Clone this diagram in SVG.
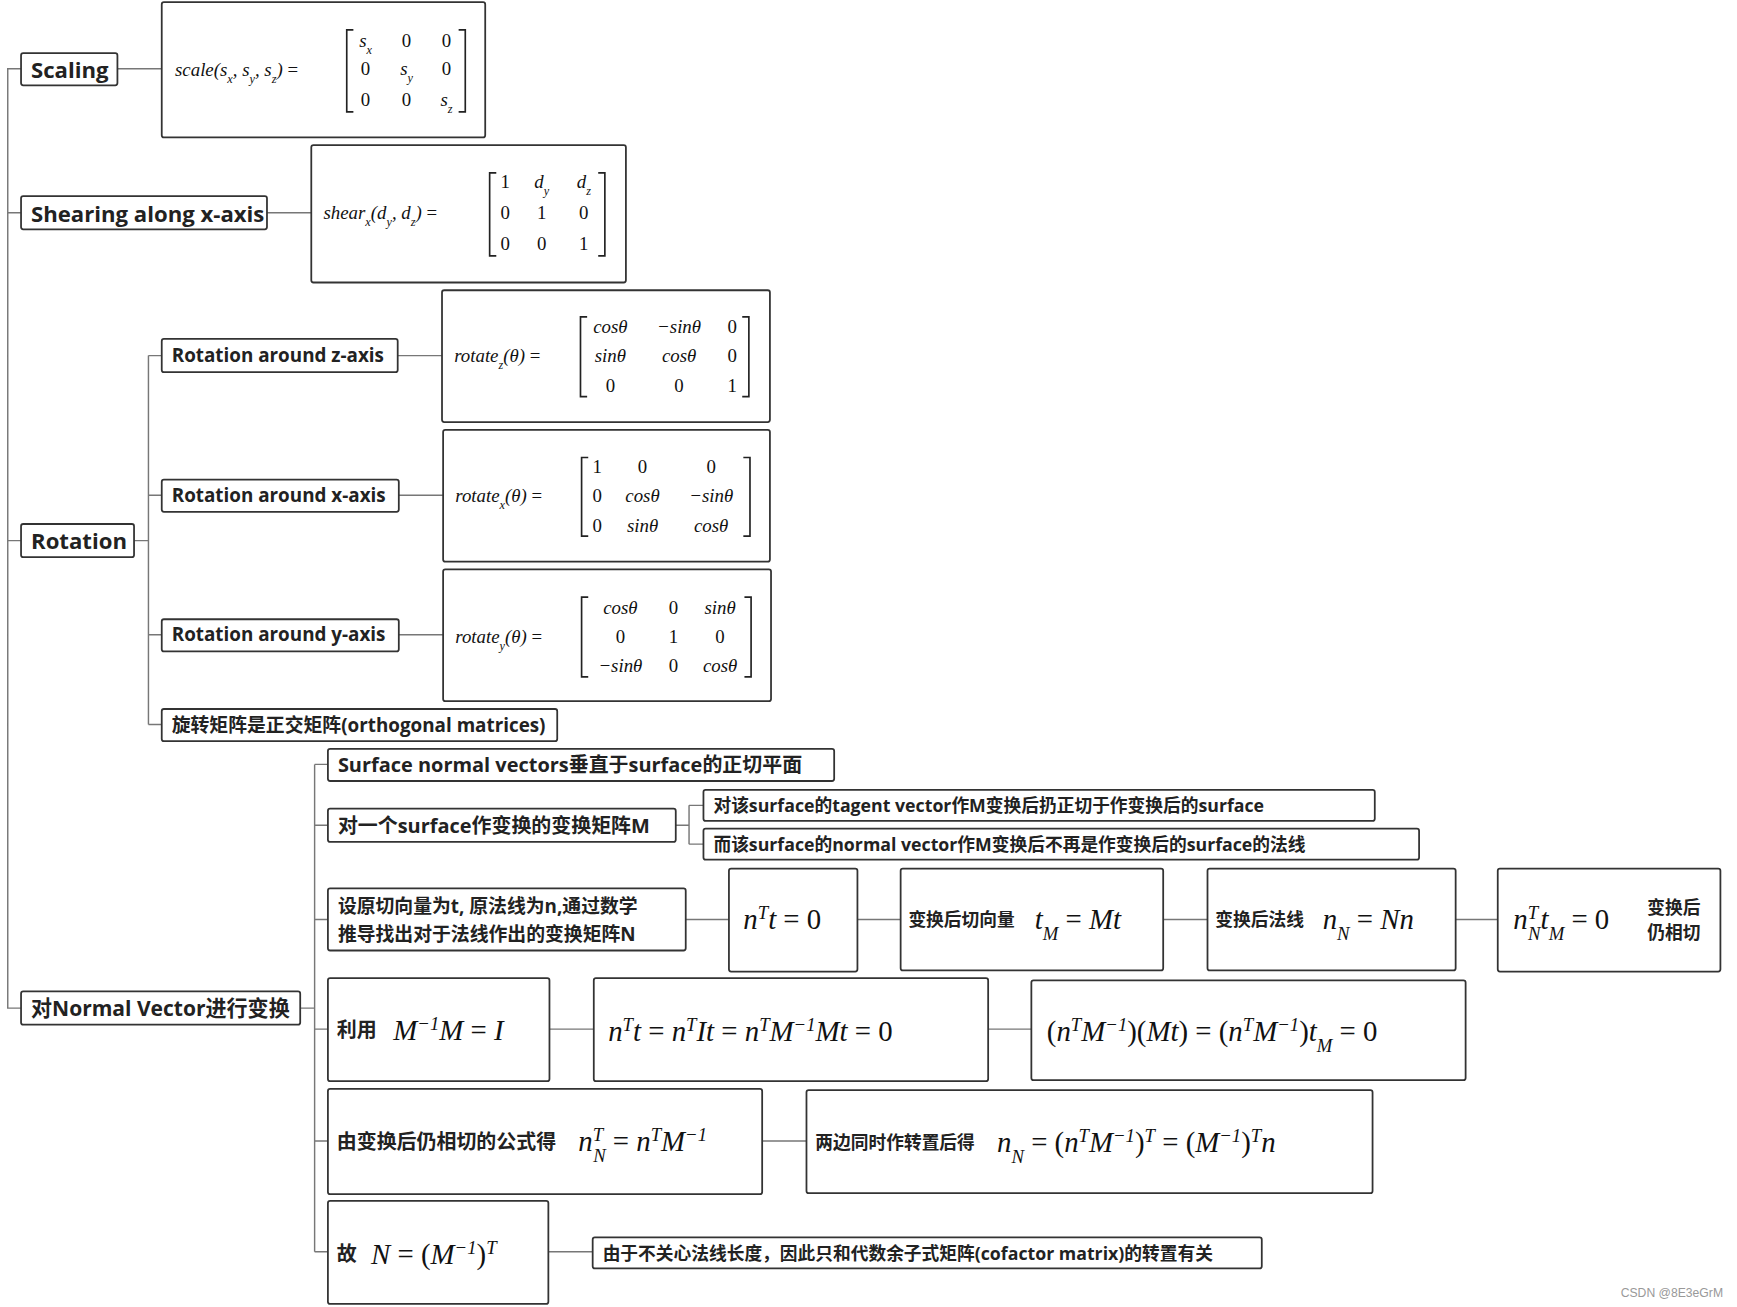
<svg xmlns="http://www.w3.org/2000/svg" width="1737" height="1307" viewBox="0 0 1737 1307">
<style>
.b{fill:#fff;stroke:#333;stroke-width:1.6}
.c{fill:none;stroke:#777;stroke-width:1.3}
.k{fill:none;stroke:#222;stroke-width:1.5}
.t{font-family:"Open Sans","Noto Sans CJK SC",sans-serif;font-weight:bold;fill:#222}
.m{font-family:"Liberation Serif",serif;font-style:italic;fill:#111}
.n{font-style:normal}
.u{font-size:65%;baseline-shift:super}
.d{font-size:65%;baseline-shift:sub}
.e{text-anchor:middle;font-size:17px}
</style>
<rect width="1737" height="1307" fill="#fff"/>
<g transform="scale(1.1078)">
<g id="connectors">
<path class="c" d="M19 62H7V910H19M7 192H19M7 488H19M106 62H146M241 192H281M121 488H134M134 321V654M134 321H146M134 447H146M134 573H146M134 654H146M359 321H399M360 447H400M360 573H400M271 910H284M284 690V1130M284 690H296M284 745H296M284 830H296M284 929H296M284 1030H296M284 1130H296M610 745H622M622 727V762M622 727H635M622 762H635M619 830H658M774 830H813M1050 830H1090M1314 830H1352M496 929H536M892 929H931M688 1030H728M495 1130H535"/>
</g>
<g id="scaling"><rect class="b" x="19" y="48" width="87" height="29" rx="2"/><text class="t" x="28" y="70" font-size="20">Scaling</text></g>
<g id="scale-f"><rect class="b" x="146" y="2" width="292" height="122" rx="2"/>
<text class="m" x="158" y="69" font-size="17">scale(s<tspan class="d">x</tspan>, s<tspan class="d">y</tspan>, s<tspan class="d">z</tspan>) <tspan class="n">=</tspan></text>
<path class="k" d="M319 27H313V101H319M414 27H420V101H414"/>
<g class="m e"><text x="330" y="42">s<tspan class="d">x</tspan></text><text x="367" y="42" class="n">0</text><text x="403" y="42" class="n">0</text>
<text x="330" y="68" class="n">0</text><text x="367" y="68">s<tspan class="d">y</tspan></text><text x="403" y="68" class="n">0</text>
<text x="330" y="96" class="n">0</text><text x="367" y="96" class="n">0</text><text x="403" y="96">s<tspan class="d">z</tspan></text></g></g>
<g id="shearing"><rect class="b" x="19" y="177" width="222" height="30" rx="2"/><text class="t" x="28" y="200" font-size="20">Shearing along x-axis</text></g>
<g id="shear-f"><rect class="b" x="281" y="131" width="284" height="124" rx="2"/>
<text class="m" x="292" y="198" font-size="17">shear<tspan class="d">x</tspan>(d<tspan class="d">y</tspan>, d<tspan class="d">z</tspan>) <tspan class="n">=</tspan></text>
<path class="k" d="M448 156H442V231H448M540 156H546V231H540"/>
<g class="m e"><text x="456" y="170" class="n">1</text><text x="489" y="170">d<tspan class="d">y</tspan></text><text x="527" y="170">d<tspan class="d">z</tspan></text>
<text x="456" y="198" class="n">0</text><text x="489" y="198" class="n">1</text><text x="527" y="198" class="n">0</text>
<text x="456" y="226" class="n">0</text><text x="489" y="226" class="n">0</text><text x="527" y="226" class="n">1</text></g></g>
<g id="rotation"><rect class="b" x="19" y="473" width="102" height="30" rx="2"/><text class="t" x="28" y="496" font-size="20">Rotation</text></g>
<g id="rotz"><rect class="b" x="146" y="306" width="213" height="30" rx="2"/><text class="t" x="155" y="327" font-size="17">Rotation around z-axis</text></g>
<g id="rotz-f"><rect class="b" x="399" y="262" width="296" height="119" rx="2"/>
<text class="m" x="410" y="327" font-size="17">rotate<tspan class="d">z</tspan>(θ) <tspan class="n">=</tspan></text>
<path class="k" d="M530 286H524V358H530M670 286H676V358H670"/>
<g class="m e"><text x="551" y="301">cosθ</text><text x="613" y="301">−sinθ</text><text x="661" y="301" class="n">0</text>
<text x="551" y="327">sinθ</text><text x="613" y="327">cosθ</text><text x="661" y="327" class="n">0</text>
<text x="551" y="354" class="n">0</text><text x="613" y="354" class="n">0</text><text x="661" y="354" class="n">1</text></g></g>
<g id="rotx"><rect class="b" x="146" y="433" width="214" height="29" rx="2"/><text class="t" x="155" y="453" font-size="17">Rotation around x-axis</text></g>
<g id="rotx-f"><rect class="b" x="400" y="388" width="295" height="119" rx="2"/>
<text class="m" x="411" y="453" font-size="17">rotate<tspan class="d">x</tspan>(θ) <tspan class="n">=</tspan></text>
<path class="k" d="M531 413H525V484H531M671 413H677V484H671"/>
<g class="m e"><text x="539" y="427" class="n">1</text><text x="580" y="427" class="n">0</text><text x="642" y="427" class="n">0</text>
<text x="539" y="453" class="n">0</text><text x="580" y="453">cosθ</text><text x="642" y="453">−sinθ</text>
<text x="539" y="480" class="n">0</text><text x="580" y="480">sinθ</text><text x="642" y="480">cosθ</text></g></g>
<g id="roty"><rect class="b" x="146" y="559" width="214" height="29" rx="2"/><text class="t" x="155" y="579" font-size="17">Rotation around y-axis</text></g>
<g id="roty-f"><rect class="b" x="400" y="514" width="296" height="119" rx="2"/>
<text class="m" x="411" y="580" font-size="17">rotate<tspan class="d">y</tspan>(θ) <tspan class="n">=</tspan></text>
<path class="k" d="M531 539H525V611H531M672 539H678V611H672"/>
<g class="m e"><text x="560" y="554">cosθ</text><text x="608" y="554" class="n">0</text><text x="650" y="554">sinθ</text>
<text x="560" y="580" class="n">0</text><text x="608" y="580" class="n">1</text><text x="650" y="580" class="n">0</text>
<text x="560" y="607">−sinθ</text><text x="608" y="607" class="n">0</text><text x="650" y="607">cosθ</text></g></g>
<g id="orth"><rect class="b" x="146" y="640" width="357" height="29" rx="2"/><text class="t" x="155" y="661" font-size="17">旋转矩阵是正交矩阵(orthogonal matrices)</text></g>
<g id="normal"><rect class="b" x="19" y="895" width="252" height="30" rx="2"/><text class="t" x="28" y="917" font-size="19">对Normal Vector进行变换</text></g>
<g id="n1"><rect class="b" x="296" y="676" width="457" height="29" rx="2"/><text class="t" x="305" y="697" font-size="18">Surface normal vectors垂直于surface的正切平面</text></g>
<g id="n2"><rect class="b" x="296" y="730" width="314" height="30" rx="2"/><text class="t" x="305" y="752" font-size="18">对一个surface作变换的变换矩阵M</text></g>
<g id="n2a"><rect class="b" x="635" y="713" width="606" height="28" rx="2"/><text class="t" x="644" y="733" font-size="16">对该surface的tagent vector作M变换后扔正切于作变换后的surface</text></g>
<g id="n2b"><rect class="b" x="635" y="748" width="646" height="28" rx="2"/><text class="t" x="644" y="768" font-size="16">而该surface的normal vector作M变换后不再是作变换后的surface的法线</text></g>
<g id="n3"><rect class="b" x="296" y="802" width="323" height="56" rx="2"/><text class="t" font-size="17"><tspan x="305" y="824">设原切向量为t, 原法线为n,通过数学</tspan><tspan x="305" y="849">推导找出对于法线作出的变换矩阵N</tspan></text></g>
<g id="n3a"><rect class="b" x="658" y="784" width="116" height="93" rx="2"/><text class="m" x="671" y="839" font-size="26">n<tspan class="u">T</tspan>t <tspan class="n">= 0</tspan></text></g>
<g id="n3b"><rect class="b" x="813" y="784" width="237" height="92" rx="2"/><text class="t" x="820" y="836" font-size="16">变换后切向量</text><text class="m" x="934" y="839" font-size="26">t<tspan class="d">M</tspan> <tspan class="n">=</tspan> Mt</text></g>
<g id="n3c"><rect class="b" x="1090" y="784" width="224" height="92" rx="2"/><text class="t" x="1097" y="836" font-size="16">变换后法线</text><text class="m" x="1194" y="839" font-size="26">n<tspan class="d">N</tspan> <tspan class="n">=</tspan> Nn</text></g>
<g id="n3d"><rect class="b" x="1352" y="784" width="201" height="93" rx="2"/><text class="m" x="1366" y="839" font-size="26">n<tspan class="u">T</tspan><tspan dx="-9" class="d">N</tspan>t<tspan class="d">M</tspan> <tspan class="n">= 0</tspan></text><text class="t" font-size="16"><tspan x="1487" y="825">变换后</tspan><tspan x="1487" y="848">仍相切</tspan></text></g>
<g id="n4"><rect class="b" x="296" y="883" width="200" height="93" rx="2"/><text class="t" x="304" y="936" font-size="18">利用</text><text class="m" x="355" y="939" font-size="26">M<tspan class="u">−1</tspan>M <tspan class="n">=</tspan> I</text></g>
<g id="n4a"><rect class="b" x="536" y="883" width="356" height="93" rx="2"/><text class="m" x="549" y="940" font-size="26">n<tspan class="u">T</tspan>t <tspan class="n">=</tspan> n<tspan class="u">T</tspan>It <tspan class="n">=</tspan> n<tspan class="u">T</tspan>M<tspan class="u">−1</tspan>Mt <tspan class="n">= 0</tspan></text></g>
<g id="n4b"><rect class="b" x="931" y="885" width="392" height="90" rx="2"/><text class="m" x="945" y="940" font-size="26"><tspan class="n">(</tspan>n<tspan class="u">T</tspan>M<tspan class="u">−1</tspan><tspan class="n">)(</tspan>Mt<tspan class="n">) = (</tspan>n<tspan class="u">T</tspan>M<tspan class="u">−1</tspan><tspan class="n">)</tspan>t<tspan class="d">M</tspan> <tspan class="n">= 0</tspan></text></g>
<g id="n5"><rect class="b" x="296" y="983" width="392" height="95" rx="2"/><text class="t" x="304" y="1037" font-size="18">由变换后仍相切的公式得</text><text class="m" x="522" y="1039" font-size="26">n<tspan class="u">T</tspan><tspan dx="-9" class="d">N</tspan> <tspan class="n">=</tspan> n<tspan class="u">T</tspan>M<tspan class="u">−1</tspan></text></g>
<g id="n5a"><rect class="b" x="728" y="984" width="511" height="93" rx="2"/><text class="t" x="736" y="1037" font-size="16">两边同时作转置后得</text><text class="m" x="900" y="1040" font-size="26">n<tspan class="d">N</tspan> <tspan class="n">= (</tspan>n<tspan class="u">T</tspan>M<tspan class="u">−1</tspan><tspan class="n">)</tspan><tspan class="u">T</tspan> <tspan class="n">= (</tspan>M<tspan class="u">−1</tspan><tspan class="n">)</tspan><tspan class="u">T</tspan>n</text></g>
<g id="n6"><rect class="b" x="296" y="1084" width="199" height="93" rx="2"/><text class="t" x="304" y="1138" font-size="18">故</text><text class="m" x="335" y="1141" font-size="26">N <tspan class="n">= (</tspan>M<tspan class="u">−1</tspan><tspan class="n">)</tspan><tspan class="u">T</tspan></text></g>
<g id="n6a"><rect class="b" x="535" y="1117" width="604" height="28" rx="2"/><text class="t" x="544" y="1137" font-size="16">由于不关心法线长度，因此只和代数余子式矩阵(cofactor matrix)的转置有关</text></g>
<text x="1463" y="1171" font-family="Liberation Sans,sans-serif" font-size="11" fill="#999">CSDN @8E3eGrM</text>
</g>
</svg>
